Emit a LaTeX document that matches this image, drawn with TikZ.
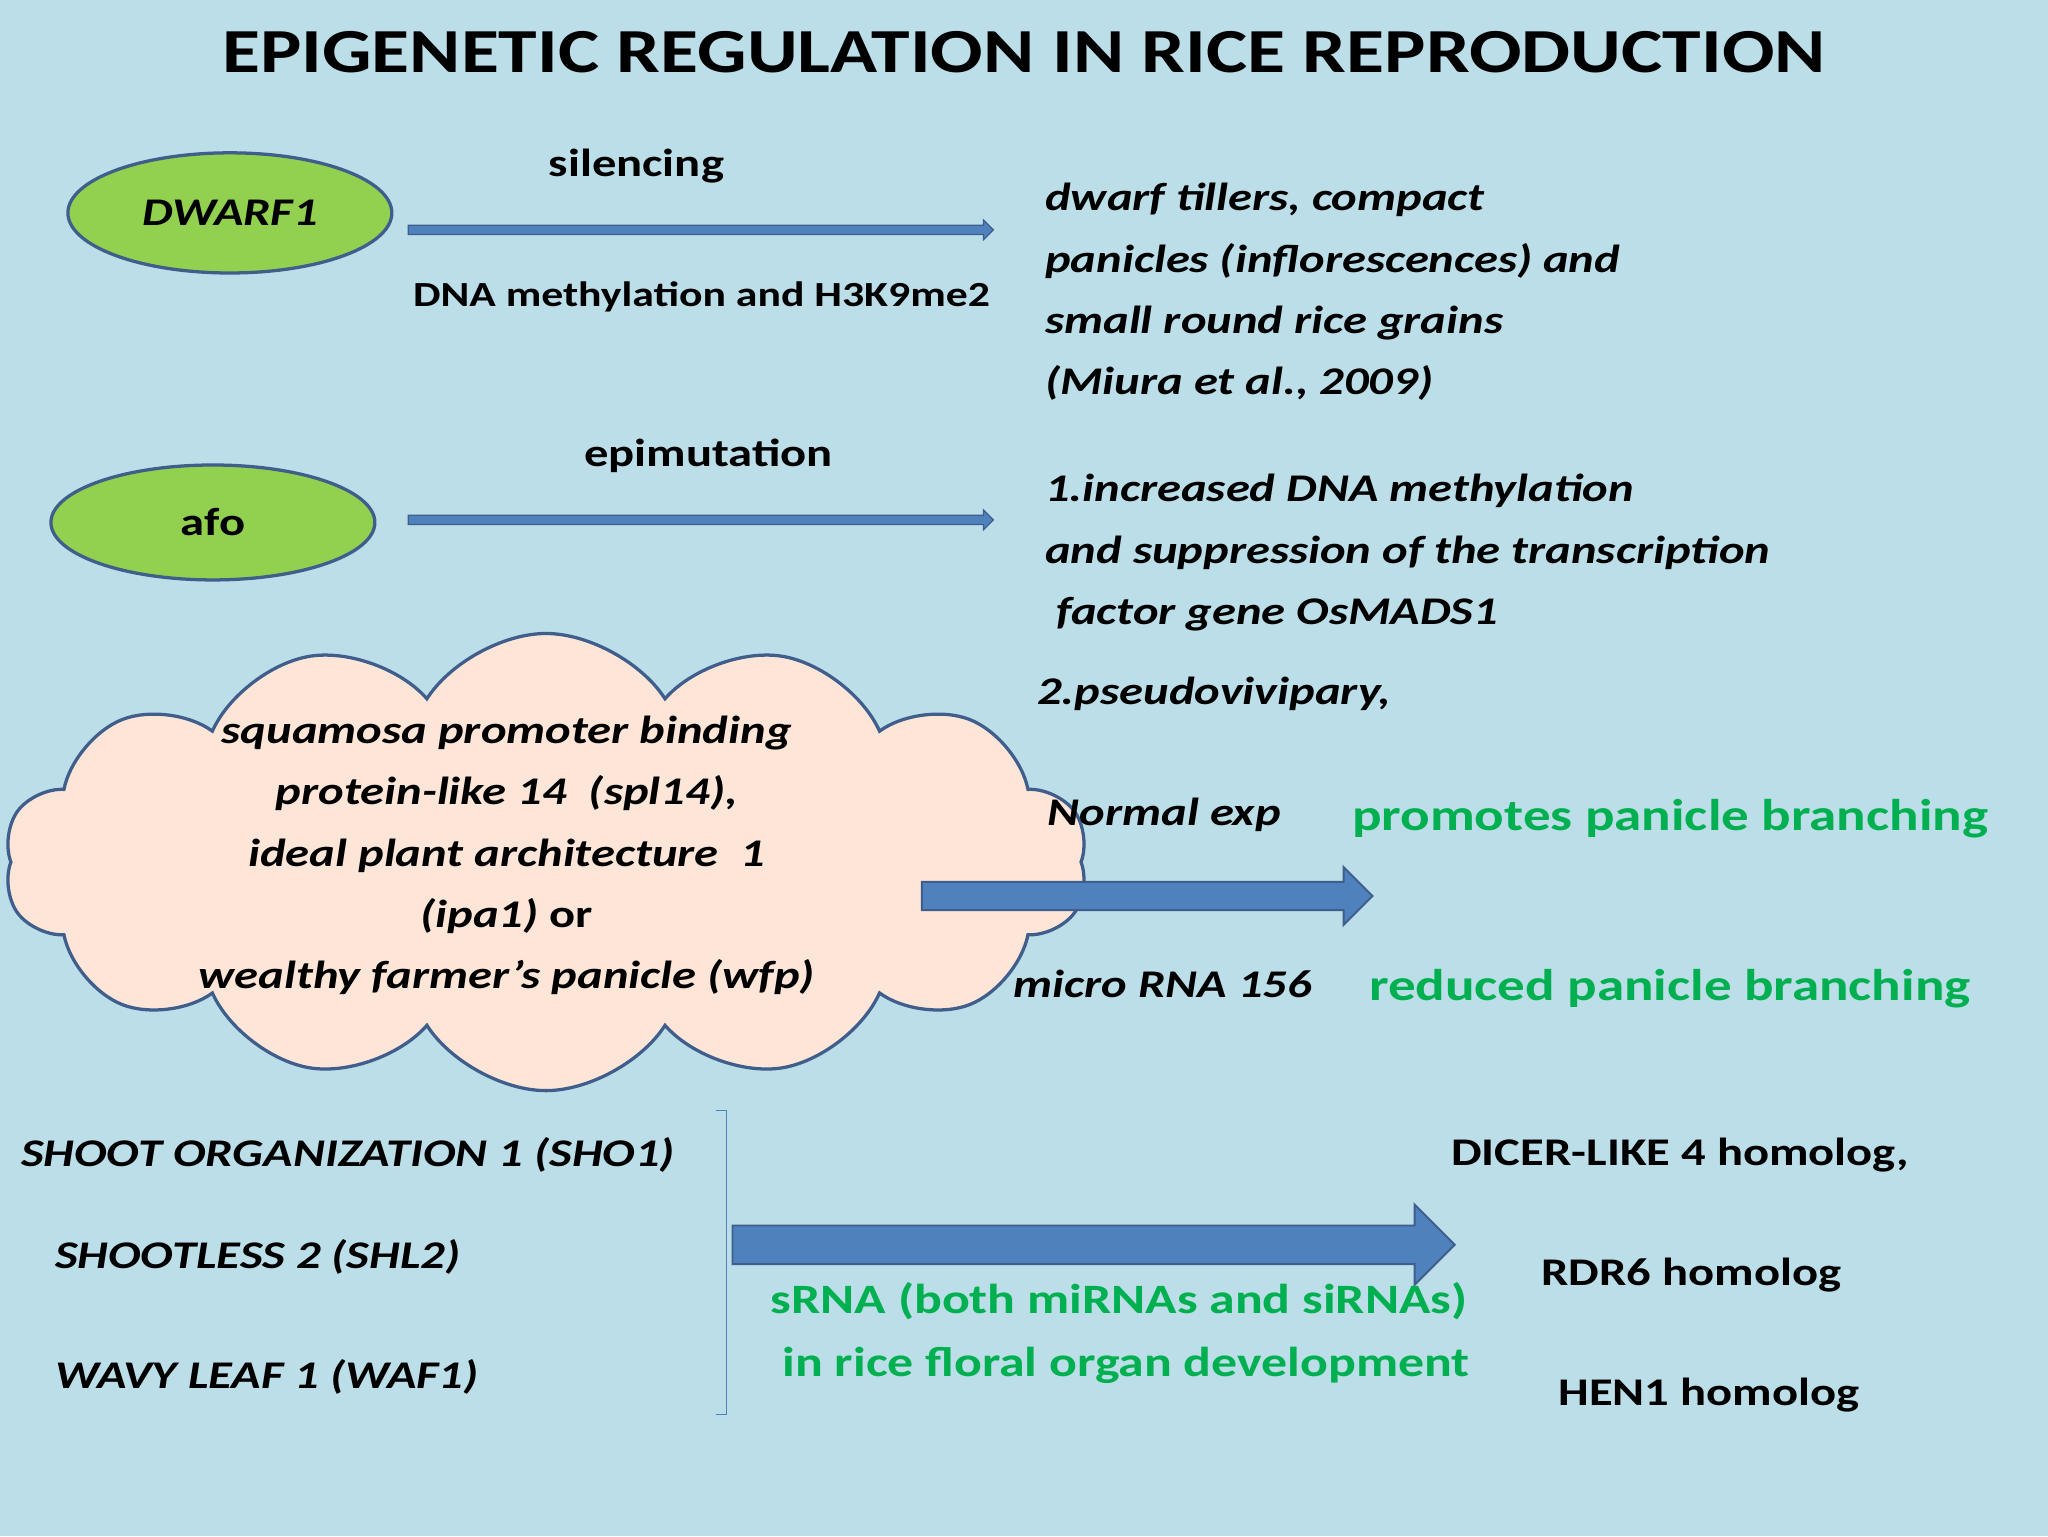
\documentclass[tikz,border=0pt]{standalone}
\usepackage{fontspec}
\setmainfont{Carlito}[FakeStretch=1.24]
\usetikzlibrary{shapes.geometric,shapes.symbols,shapes.arrows}
\definecolor{bg}{HTML}{BCDEE8}
\definecolor{edge}{HTML}{3F5E8C}
\definecolor{arr}{HTML}{4F81BD}
\definecolor{lg}{HTML}{92D050}
\definecolor{gr}{HTML}{00B050}
\definecolor{pk}{HTML}{FDE6D8}
\begin{document}
\begin{tikzpicture}[x=1pt,y=-1pt,
  t/.style={font=\fontsize{30}{47}\selectfont\bfseries, inner sep=0pt, align=left, anchor=west},
  it/.style={t, font=\fontsize{30}{47}\selectfont\bfseries\itshape},
  g/.style={t, text=gr, font=\fontsize{34}{50}\selectfont\bfseries},
  ell/.style={ellipse, draw=edge, line width=2.5pt, fill=lg, font=\fontsize{30}{36}\selectfont\bfseries},
  thin/.style={single arrow, draw=edge, fill=arr, line width=1pt, inner sep=3pt, single arrow head extend=4pt, anchor=west},
  thick/.style={single arrow, draw=edge, fill=arr, line width=1.5pt, anchor=west}]
\fill[bg] (0,0) rectangle (1568,1176);
\useasboundingbox (0,0) rectangle (1568,1176);
\node[font=\fontsize{48}{56}\selectfont\bfseries] (title) at (784,40) {EPIGENETIC REGULATION IN RICE REPRODUCTION};
% DWARF1
\node[ell, minimum width=248, minimum height=92, font=\fontsize{30}{36}\selectfont\bfseries\itshape] (dw) at (176,163) {DWARF1};
\node[thin, minimum height=448] (a1) at (312,176) {};
\node[t] (sil) at (420,127) {silencing};
\node[t, font=\fontsize{27}{32}\selectfont\bfseries] (dna) at (316,227) {DNA methylation and H3K9me2};
\node[it, anchor=north west] (r1) at (800,140) {dwarf tillers, compact\\panicles (inflorescences) and\\small round rice grains\\(Miura et al., 2009)};
% afo
\node[ell, minimum width=248, minimum height=88] (afo) at (163,400) {afo};
\node[thin, minimum height=448] (a2) at (312,398) {};
\node[t] (epi) at (447,349) {epimutation};
\node[it, anchor=north west] (r2) at (800,363) {1.increased DNA methylation\\and suppression of the transcription\\\ factor gene OsMADS1};
\node[it] (pseudo) at (794,531) {2.pseudovivipary,};
% cloud
\node[cloud, cloud puffs=14, cloud puff arc=115, aspect=2.4, draw=edge, line width=2.5pt, fill=pk, minimum width=830, minimum height=350] (cl) at (418,660) {};
\node[it, align=center, anchor=center] (ct) at (388,655) {squamosa promoter binding\\protein-like 14 \ (spl14),\\ideal plant architecture \ 1\\(\textit{ipa1}) \upshape or\\wealthy farmer’s panicle (wfp)};
\node[thick, minimum height=345, minimum width=44, inner sep=10pt, single arrow head extend=11pt] (a3) at (705,686) {};
\node[it] (ne) at (802,624) {Normal exp};
\node[it] (mir) at (776,753) {micro RNA 156};
\node[g] (pp) at (1035,627) {promotes panicle branching};
\node[g] (rp) at (1048,757) {reduced panicle branching};
% bottom
\node[it] (sho) at (16,884) {SHOOT ORGANIZATION 1 (SHO1)};
\node[it] (shl) at (42,962) {SHOOTLESS 2 (SHL2)};
\node[it] (waf) at (42,1054) {WAVY LEAF 1 (WAF1)};
\coordinate (b1) at (548,850); \coordinate (b2) at (556,850);
\coordinate (b3) at (556,1083); \coordinate (b4) at (548,1083);
\draw[arr, line width=1pt] (b1) -- (b2) -- (b3) -- (b4);
\node[thick, minimum height=553, minimum width=60, inner sep=14pt, single arrow head extend=16pt] (a4) at (560,953) {};
\node[g, font=\fontsize{32}{48}\selectfont\bfseries, align=left, anchor=north west] (srna) at (590,982) {sRNA (both miRNAs and siRNAs)\\\ in rice floral organ development};
\node[t] (dcl) at (1111,884) {DICER-LIKE 4 homolog,};
\node[t] (rdr) at (1180,976) {RDR6 homolog};
\node[t] (hen) at (1193,1068) {HEN1 homolog};
\end{tikzpicture}
\end{document}
